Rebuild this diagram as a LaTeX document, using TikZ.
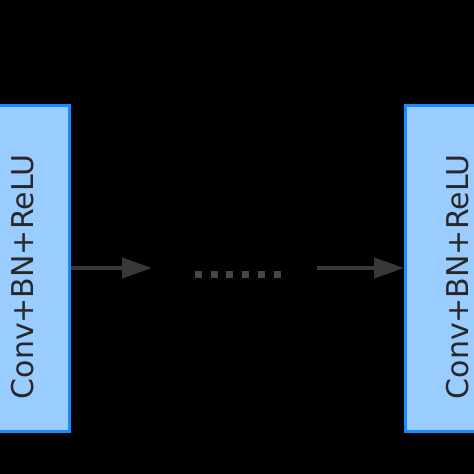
\documentclass[tikz,border=0pt]{standalone}
\usepackage{fontspec}
\setmainfont{DejaVu Sans}
\usetikzlibrary{arrows.meta}
\definecolor{boxfill}{RGB}{153,204,255}
\definecolor{boxline}{RGB}{30,136,255}
\definecolor{arrowgray}{RGB}{56,56,56}
\definecolor{dotgray}{RGB}{70,70,70}
\definecolor{textgray}{RGB}{40,40,40}
\tikzset{
  layerbox/.style={draw=boxline, fill=boxfill, line width=3pt, inner sep=0pt},
  layertext/.style={rotate=90, inner sep=0pt, text=textgray, font=\fontsize{30}{36}\selectfont},
  flow/.style={draw=arrowgray, line width=4pt, -{Triangle[length=30pt,width=20pt]}},
  dots/.style={draw=dotgray, line width=7pt, dash pattern=on 7pt off 8.7pt}
}
\begin{document}
\begin{tikzpicture}[x=1pt,y=-1pt]
\fill[black] (0,0) rectangle (474,474);
\useasboundingbox (0,0) rectangle (474,474);
\node[layerbox, minimum width=109.5pt, minimum height=326pt] (lbox) at (14.75,268) {};
\node[layerbox, minimum width=109.5pt, minimum height=326pt] (rbox) at (460.25,268) {};
\node[layertext] (ltext) at (22.5,277) {Conv+BN+ReLU};
\node[layertext] (rtext) at (458,277) {Conv+BN+ReLU};
\coordinate (a1end) at (152,268);
\coordinate (a2start) at (317,268);
\coordinate (dA) at (195,274.5);
\coordinate (dB) at (282,274.5);
\draw[flow] (lbox.east) -- (a1end);
\draw[flow] (a2start) -- (rbox.west);
\draw[dots] (dA) -- (dB);
\end{tikzpicture}
\end{document}
